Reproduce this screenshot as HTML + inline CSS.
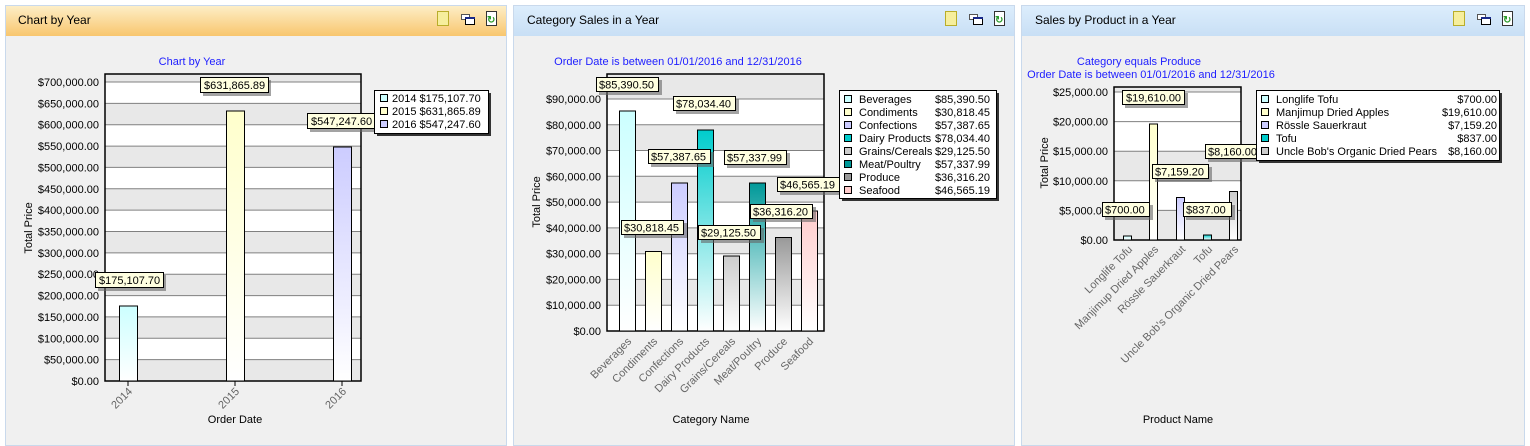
<!DOCTYPE html>
<html><head><meta charset="utf-8"><style>
body{margin:0;background:#fff;width:1530px;height:446px;overflow:hidden}
svg{display:block;font-family:"Liberation Sans",Tahoma,sans-serif}
</style></head><body>
<svg width="1530" height="446" viewBox="0 0 1530 446" xmlns="http://www.w3.org/2000/svg">
<defs>
<linearGradient id="ho" x1="0" y1="0" x2="0" y2="1"><stop offset="0" stop-color="#fdeec6"/><stop offset="1" stop-color="#f8c66e"/></linearGradient>
<linearGradient id="hb" x1="0" y1="0" x2="0" y2="1"><stop offset="0" stop-color="#dcedfc"/><stop offset="1" stop-color="#c8dff5"/></linearGradient>
<linearGradient id="g1" x1="0" y1="0" x2="0" y2="1"><stop offset="0" stop-color="#ccffff"/><stop offset="1" stop-color="#fff"/></linearGradient>
<linearGradient id="g2" x1="0" y1="0" x2="0" y2="1"><stop offset="0" stop-color="#ffffcc"/><stop offset="1" stop-color="#fff"/></linearGradient>
<linearGradient id="g3" x1="0" y1="0" x2="0" y2="1"><stop offset="0" stop-color="#ccccff"/><stop offset="1" stop-color="#fff"/></linearGradient>
<linearGradient id="g4" x1="0" y1="0" x2="0" y2="1"><stop offset="0" stop-color="#00cccc"/><stop offset="1" stop-color="#fff"/></linearGradient>
<linearGradient id="g5" x1="0" y1="0" x2="0" y2="1"><stop offset="0" stop-color="#cccccc"/><stop offset="1" stop-color="#fff"/></linearGradient>
<linearGradient id="g6" x1="0" y1="0" x2="0" y2="1"><stop offset="0" stop-color="#009999"/><stop offset="1" stop-color="#fff"/></linearGradient>
<linearGradient id="g7" x1="0" y1="0" x2="0" y2="1"><stop offset="0" stop-color="#999999"/><stop offset="1" stop-color="#fff"/></linearGradient>
<linearGradient id="g8" x1="0" y1="0" x2="0" y2="1"><stop offset="0" stop-color="#ffcccc"/><stop offset="1" stop-color="#fff"/></linearGradient>
</defs>

<rect x="5.5" y="5.5" width="501" height="440" fill="#f0f0f0" stroke="#c9d9ec"/>
<rect x="6" y="6" width="500" height="30" fill="url(#ho)"/>
<text x="18" y="24" font-size="12" fill="#000">Chart by Year</text>
<rect x="513.5" y="5.5" width="501" height="440" fill="#f0f0f0" stroke="#c9d9ec"/>
<rect x="514" y="6" width="500" height="30" fill="url(#hb)"/>
<text x="527" y="24" font-size="12" fill="#000">Category Sales in a Year</text>
<rect x="1021.5" y="5.5" width="503" height="440" fill="#f0f0f0" stroke="#c9d9ec"/>
<rect x="1022" y="6" width="502" height="30" fill="url(#hb)"/>
<text x="1035" y="24" font-size="12" fill="#000">Sales by Product in a Year</text>

<g id="ic1">
<rect x="437.5" y="11.5" width="11" height="14" fill="#f6ee9c" stroke="#b9ad2a"/>
<rect x="461.5" y="14.5" width="8" height="5" fill="#fff" stroke="#555"/>
<rect x="465.5" y="17.5" width="9" height="7" fill="#fff" stroke="#000"/><rect x="465" y="17" width="10" height="2" fill="#1a2a8a"/>
<rect x="486.5" y="11.5" width="10" height="14" fill="#fff" stroke="#333"/>
<text x="487" y="23" font-size="10" fill="#2a9a2a" font-weight="bold">↻</text>
</g>
<use href="#ic1" x="508"/>
<use href="#ic1" x="1016"/>

<!-- CHART 1 -->
<text x="192" y="65" font-size="11" fill="#2020ff" text-anchor="middle">Chart by Year</text>
<rect x="105" y="74" width="256" height="307" fill="#fff"/>
<g fill="#e8e8e8">
<rect x="105" y="359.6" width="256" height="21.4"/><rect x="105" y="316.9" width="256" height="21.4"/>
<rect x="105" y="274.2" width="256" height="21.4"/><rect x="105" y="231.5" width="256" height="21.4"/>
<rect x="105" y="188.8" width="256" height="21.4"/><rect x="105" y="146.1" width="256" height="21.4"/>
<rect x="105" y="103.4" width="256" height="21.4"/><rect x="105" y="74" width="256" height="8"/>
</g>
<g stroke="#808080" stroke-width="1">
<line x1="105" x2="361" y1="359.6" y2="359.6"/><line x1="105" x2="361" y1="338.3" y2="338.3"/>
<line x1="105" x2="361" y1="316.9" y2="316.9"/><line x1="105" x2="361" y1="295.6" y2="295.6"/>
<line x1="105" x2="361" y1="274.2" y2="274.2"/><line x1="105" x2="361" y1="252.9" y2="252.9"/>
<line x1="105" x2="361" y1="231.5" y2="231.5"/><line x1="105" x2="361" y1="210.1" y2="210.1"/>
<line x1="105" x2="361" y1="188.8" y2="188.8"/><line x1="105" x2="361" y1="167.4" y2="167.4"/>
<line x1="105" x2="361" y1="146.1" y2="146.1"/><line x1="105" x2="361" y1="124.7" y2="124.7"/>
<line x1="105" x2="361" y1="103.4" y2="103.4"/><line x1="105" x2="361" y1="82" y2="82"/>
</g>
<rect x="105" y="74" width="256" height="307" fill="none" stroke="#000" stroke-width="1.5"/>
<g font-size="11" text-anchor="end" fill="#000">
<text x="99" y="385">$0.00</text><text x="99" y="363.6">$50,000.00</text><text x="99" y="342.3">$100,000.00</text>
<text x="99" y="320.9">$150,000.00</text><text x="99" y="299.6">$200,000.00</text><text x="99" y="278.2">$250,000.00</text>
<text x="99" y="256.9">$300,000.00</text><text x="99" y="235.5">$350,000.00</text><text x="99" y="214.1">$400,000.00</text>
<text x="99" y="192.8">$450,000.00</text><text x="99" y="171.4">$500,000.00</text><text x="99" y="150.1">$550,000.00</text>
<text x="99" y="128.7">$600,000.00</text><text x="99" y="107.4">$650,000.00</text><text x="99" y="86">$700,000.00</text>
</g>
<g stroke="#000"><rect x="119.5" y="306" width="18" height="75" fill="url(#g1)"/>
<rect x="226.5" y="111" width="18" height="270" fill="url(#g2)"/>
<rect x="333.5" y="147" width="18" height="234" fill="url(#g3)"/></g>
<g stroke="#000"><line x1="128" x2="128" y1="381" y2="386"/><line x1="235" x2="235" y1="381" y2="386"/><line x1="342" x2="342" y1="381" y2="386"/></g>
<g font-size="11" fill="#666" text-anchor="end">
<text transform="translate(133,392) rotate(-45)">2014</text>
<text transform="translate(240,392) rotate(-45)">2015</text>
<text transform="translate(347,392) rotate(-45)">2016</text>
</g>
<text x="235" y="423" font-size="11" text-anchor="middle">Order Date</text>
<text transform="translate(32,228) rotate(-90)" font-size="11" text-anchor="middle">Total Price</text>
<g font-size="11">
<rect x="98" y="275" width="68" height="16" fill="#666" opacity=".6"/><rect x="95.5" y="272.5" width="68" height="15" fill="#ffffe0" stroke="#000"/><text x="99" y="284">$175,107.70</text>
<rect x="203" y="80" width="68" height="16" fill="#666" opacity=".6"/><rect x="200.5" y="77.5" width="68" height="15" fill="#ffffe0" stroke="#000"/><text x="204" y="89">$631,865.89</text>
<rect x="310" y="116" width="68" height="16" fill="#666" opacity=".6"/><rect x="307.5" y="113.5" width="68" height="15" fill="#ffffe0" stroke="#000"/><text x="311" y="125">$547,247.60</text>
</g>
<rect x="377" y="93" width="114" height="43" fill="#333"/>
<rect x="374.5" y="90.5" width="114" height="43" fill="#fff" stroke="#000"/>
<g font-size="11"><rect x="380.5" y="94.5" width="7" height="7" fill="#ccffff" stroke="#000"/><text x="392" y="102">2014 $175,107.70</text>
<rect x="380.5" y="107.5" width="7" height="7" fill="#ffffcc" stroke="#000"/><text x="392" y="115">2015 $631,865.89</text>
<rect x="380.5" y="120.5" width="7" height="7" fill="#ccccff" stroke="#000"/><text x="392" y="128">2016 $547,247.60</text></g>

<!-- CHART 2 -->
<text x="678" y="65" font-size="11" fill="#2020ff" text-anchor="middle">Order Date is between 01/01/2016 and 12/31/2016</text>
<rect x="607" y="74" width="217" height="257" fill="#fff"/>
<g fill="#e8e8e8">
<rect x="607" y="279.4" width="217" height="25.8"/><rect x="607" y="227.9" width="217" height="25.8"/>
<rect x="607" y="176.3" width="217" height="25.8"/><rect x="607" y="124.8" width="217" height="25.7"/>
<rect x="607" y="74" width="217" height="25"/>
</g>
<g stroke="#808080">
<line x1="607" x2="824" y1="305.2" y2="305.2"/><line x1="607" x2="824" y1="279.4" y2="279.4"/>
<line x1="607" x2="824" y1="253.7" y2="253.7"/><line x1="607" x2="824" y1="227.9" y2="227.9"/>
<line x1="607" x2="824" y1="202.1" y2="202.1"/><line x1="607" x2="824" y1="176.3" y2="176.3"/>
<line x1="607" x2="824" y1="150.5" y2="150.5"/><line x1="607" x2="824" y1="124.8" y2="124.8"/>
<line x1="607" x2="824" y1="99" y2="99"/>
</g>
<rect x="607" y="74" width="217" height="257" fill="none" stroke="#000" stroke-width="1.5"/>
<g font-size="11" text-anchor="end">
<text x="601" y="335">$0.00</text><text x="601" y="309.2">$10,000.00</text><text x="601" y="283.4">$20,000.00</text>
<text x="601" y="257.7">$30,000.00</text><text x="601" y="231.9">$40,000.00</text><text x="601" y="206.1">$50,000.00</text>
<text x="601" y="180.3">$60,000.00</text><text x="601" y="154.5">$70,000.00</text><text x="601" y="128.8">$80,000.00</text>
<text x="601" y="103">$90,000.00</text>
</g>
<g stroke="#000">
<rect x="619.5" y="111" width="16" height="220" fill="url(#g1)"/>
<rect x="645.5" y="251.5" width="16" height="79.5" fill="url(#g2)"/>
<rect x="671.5" y="183" width="16" height="148" fill="url(#g3)"/>
<rect x="697.5" y="130" width="16" height="201" fill="url(#g4)"/>
<rect x="723.5" y="256" width="16" height="75" fill="url(#g5)"/>
<rect x="749.5" y="183" width="16" height="148" fill="url(#g6)"/>
<rect x="775.5" y="237.5" width="16" height="93.5" fill="url(#g7)"/>
<rect x="801.5" y="211" width="16" height="120" fill="url(#g8)"/>
</g>
<g font-size="11" fill="#666" text-anchor="end">
<text transform="translate(632,342) rotate(-45)">Beverages</text>
<text transform="translate(658,342) rotate(-45)">Condiments</text>
<text transform="translate(684,342) rotate(-45)">Confections</text>
<text transform="translate(710,342) rotate(-45)">Dairy Products</text>
<text transform="translate(736,342) rotate(-45)">Grains/Cereals</text>
<text transform="translate(762,342) rotate(-45)">Meat/Poultry</text>
<text transform="translate(788,342) rotate(-45)">Produce</text>
<text transform="translate(814,342) rotate(-45)">Seafood</text>
</g>
<text x="711" y="423" font-size="11" text-anchor="middle">Category Name</text>
<text transform="translate(540,202) rotate(-90)" font-size="11" text-anchor="middle">Total Price</text>
<g font-size="11">
<rect x="599" y="80" width="63" height="15" fill="#666" opacity=".6"/><rect x="596.5" y="77.5" width="62" height="14" fill="#ffffe0" stroke="#000"/><text x="599" y="88.5">$85,390.50</text>
<rect x="676" y="99" width="63" height="15" fill="#666" opacity=".6"/><rect x="673.5" y="96.5" width="62" height="14" fill="#ffffe0" stroke="#000"/><text x="676" y="107.5">$78,034.40</text>
<rect x="651" y="152" width="63" height="15" fill="#666" opacity=".6"/><rect x="648.5" y="149.5" width="62" height="14" fill="#ffffe0" stroke="#000"/><text x="651" y="160.5">$57,387.65</text>
<rect x="727" y="153" width="63" height="15" fill="#666" opacity=".6"/><rect x="724.5" y="150.5" width="62" height="14" fill="#ffffe0" stroke="#000"/><text x="727" y="161.5">$57,337.99</text>
<rect x="780" y="180" width="63" height="15" fill="#666" opacity=".6"/><rect x="777.5" y="177.5" width="62" height="14" fill="#ffffe0" stroke="#000"/><text x="780" y="188.5">$46,565.19</text>
<rect x="753" y="207" width="63" height="15" fill="#666" opacity=".6"/><rect x="750.5" y="204.5" width="62" height="14" fill="#ffffe0" stroke="#000"/><text x="753" y="215.5">$36,316.20</text>
<rect x="624" y="223" width="63" height="15" fill="#666" opacity=".6"/><rect x="621.5" y="220.5" width="62" height="14" fill="#ffffe0" stroke="#000"/><text x="624" y="231.5">$30,818.45</text>
<rect x="701" y="228" width="63" height="15" fill="#666" opacity=".6"/><rect x="698.5" y="225.5" width="62" height="14" fill="#ffffe0" stroke="#000"/><text x="701" y="236.5">$29,125.50</text>
</g>
<rect x="842" y="93" width="157" height="108" fill="#333"/>
<rect x="839.5" y="90.5" width="157" height="108" fill="#fff" stroke="#000"/>
<g font-size="11">
<rect x="844.5" y="95.5" width="7" height="7" fill="#ccffff" stroke="#000"/><text x="859" y="103">Beverages</text><text x="990" y="103" text-anchor="end">$85,390.50</text>
<rect x="844.5" y="108.5" width="7" height="7" fill="#ffffcc" stroke="#000"/><text x="859" y="116">Condiments</text><text x="990" y="116" text-anchor="end">$30,818.45</text>
<rect x="844.5" y="121.5" width="7" height="7" fill="#ccccff" stroke="#000"/><text x="859" y="129">Confections</text><text x="990" y="129" text-anchor="end">$57,387.65</text>
<rect x="844.5" y="134.5" width="7" height="7" fill="#00cccc" stroke="#000"/><text x="859" y="142">Dairy Products</text><text x="990" y="142" text-anchor="end">$78,034.40</text>
<rect x="844.5" y="147.5" width="7" height="7" fill="#cccccc" stroke="#000"/><text x="859" y="155">Grains/Cereals</text><text x="990" y="155" text-anchor="end">$29,125.50</text>
<rect x="844.5" y="160.5" width="7" height="7" fill="#009999" stroke="#000"/><text x="859" y="168">Meat/Poultry</text><text x="990" y="168" text-anchor="end">$57,337.99</text>
<rect x="844.5" y="173.5" width="7" height="7" fill="#999999" stroke="#000"/><text x="859" y="181">Produce</text><text x="990" y="181" text-anchor="end">$36,316.20</text>
<rect x="844.5" y="186.5" width="7" height="7" fill="#ffcccc" stroke="#000"/><text x="859" y="194">Seafood</text><text x="990" y="194" text-anchor="end">$46,565.19</text>
</g>

<!-- CHART 3 -->
<text x="1139" y="65" font-size="11" fill="#2020ff" text-anchor="middle">Category equals Produce</text>
<text x="1151" y="78" font-size="11" fill="#2020ff" text-anchor="middle">Order Date is between 01/01/2016 and 12/31/2016</text>
<rect x="1114" y="87" width="127" height="153" fill="#fff"/>
<g fill="#e8e8e8"><rect x="1114" y="210.4" width="127" height="29.6"/><rect x="1114" y="151.2" width="127" height="29.6"/><rect x="1114" y="87" width="127" height="5"/></g>
<g stroke="#808080">
<line x1="1114" x2="1241" y1="210.4" y2="210.4"/><line x1="1114" x2="1241" y1="180.8" y2="180.8"/>
<line x1="1114" x2="1241" y1="151.2" y2="151.2"/><line x1="1114" x2="1241" y1="121.6" y2="121.6"/>
<line x1="1114" x2="1241" y1="92" y2="92"/>
</g>
<rect x="1114" y="87" width="127" height="153" fill="none" stroke="#000" stroke-width="1.5"/>
<g font-size="11" text-anchor="end">
<text x="1108" y="244">$0.00</text><text x="1108" y="214.4">$5,000.00</text><text x="1108" y="184.8">$10,000.00</text>
<text x="1108" y="155.2">$15,000.00</text><text x="1108" y="125.6">$20,000.00</text><text x="1108" y="96">$25,000.00</text>
</g>
<g stroke="#000">
<rect x="1123.5" y="236" width="8" height="4" fill="url(#g1)"/>
<rect x="1149.5" y="124" width="8" height="116" fill="url(#g2)"/>
<rect x="1176.5" y="197.5" width="8" height="42.5" fill="url(#g3)"/>
<rect x="1203.5" y="235" width="8" height="5" fill="url(#g4)"/>
<rect x="1229.5" y="191.5" width="8" height="48.5" fill="url(#g5)"/>
</g>
<g font-size="11" fill="#666" text-anchor="end">
<text transform="translate(1133,250) rotate(-45)">Longlife Tofu</text>
<text transform="translate(1159,250) rotate(-45)">Manjimup Dried Apples</text>
<text transform="translate(1186,250) rotate(-45)">Rössle Sauerkraut</text>
<text transform="translate(1213,250) rotate(-45)">Tofu</text>
<text transform="translate(1239,250) rotate(-45)">Uncle Bob's Organic Dried Pears</text>
</g>
<text x="1178" y="423" font-size="11" text-anchor="middle">Product Name</text>
<text transform="translate(1048,163) rotate(-90)" font-size="11" text-anchor="middle">Total Price</text>
<g font-size="11">
<rect x="1125" y="93" width="63" height="15" fill="#666" opacity=".6"/><rect x="1122.5" y="90.5" width="62" height="14" fill="#ffffe0" stroke="#000"/><text x="1126" y="101.5">$19,610.00</text>
<rect x="1208" y="147" width="57" height="15" fill="#666" opacity=".6"/><rect x="1205.5" y="144.5" width="56" height="14" fill="#ffffe0" stroke="#000"/><text x="1208" y="155.5">$8,160.00</text>
<rect x="1155" y="167" width="57" height="15" fill="#666" opacity=".6"/><rect x="1152.5" y="164.5" width="56" height="14" fill="#ffffe0" stroke="#000"/><text x="1155" y="175.5">$7,159.20</text>
<rect x="1105" y="205" width="48" height="15" fill="#666" opacity=".6"/><rect x="1102.5" y="202.5" width="47" height="14" fill="#ffffe0" stroke="#000"/><text x="1105" y="213.5">$700.00</text>
<rect x="1186" y="205" width="49" height="15" fill="#666" opacity=".6"/><rect x="1183.5" y="202.5" width="48" height="14" fill="#ffffe0" stroke="#000"/><text x="1186" y="213.5">$837.00</text>
</g>
<rect x="1259" y="93" width="243" height="70" fill="#333"/>
<rect x="1256.5" y="90.5" width="243" height="70" fill="#fff" stroke="#000"/>
<g font-size="11">
<rect x="1261.5" y="95.5" width="7" height="7" fill="#ccffff" stroke="#000"/><text x="1276" y="103">Longlife Tofu</text><text x="1497" y="103" text-anchor="end">$700.00</text>
<rect x="1261.5" y="108.5" width="7" height="7" fill="#ffffcc" stroke="#000"/><text x="1276" y="116">Manjimup Dried Apples</text><text x="1497" y="116" text-anchor="end">$19,610.00</text>
<rect x="1261.5" y="121.5" width="7" height="7" fill="#ccccff" stroke="#000"/><text x="1276" y="129">Rössle Sauerkraut</text><text x="1497" y="129" text-anchor="end">$7,159.20</text>
<rect x="1261.5" y="134.5" width="7" height="7" fill="#00cccc" stroke="#000"/><text x="1276" y="142">Tofu</text><text x="1497" y="142" text-anchor="end">$837.00</text>
<rect x="1261.5" y="147.5" width="7" height="7" fill="#cccccc" stroke="#000"/><text x="1276" y="155">Uncle Bob's Organic Dried Pears</text><text x="1497" y="155" text-anchor="end">$8,160.00</text>
</g>
</svg>
</body></html>
